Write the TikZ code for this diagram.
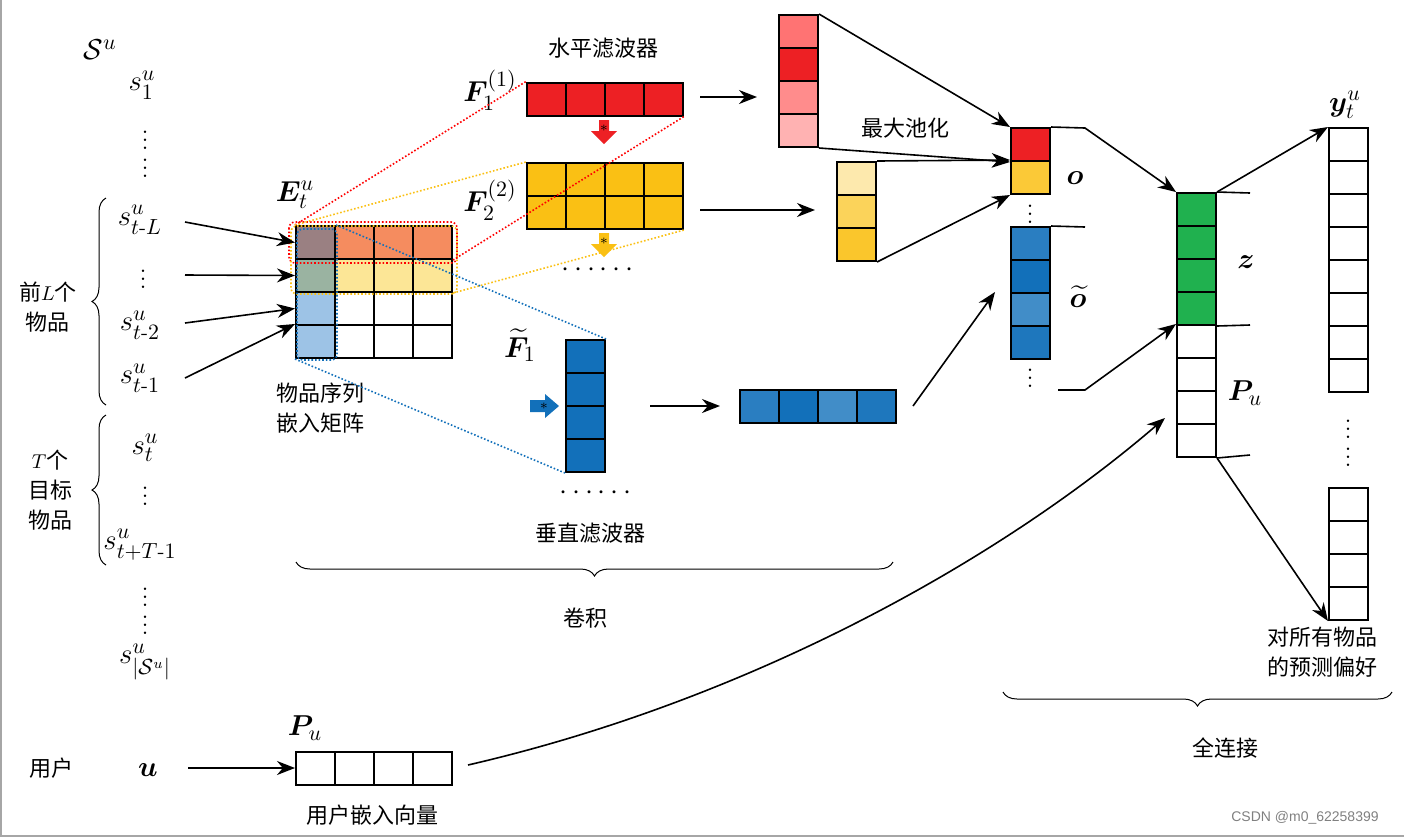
\documentclass[tikz,border=0pt]{standalone}
\usepackage{amsmath,amssymb,bm}
\usepackage{fontspec}
\newfontfamily\cjk{Noto Sans CJK SC}
\newfontfamily\wmfont{Liberation Sans}
\usetikzlibrary{arrows.meta,decorations.pathreplacing}
\definecolor{cRed}{RGB}{237,32,36}
\definecolor{cYel}{RGB}{250,192,20}
\definecolor{cOra}{RGB}{245,140,95}
\definecolor{cLYel}{RGB}{252,230,150}
\definecolor{cMauve}{RGB}{154,128,130}
\definecolor{cGrGr}{RGB}{154,179,161}
\definecolor{cLBlu}{RGB}{157,195,230}
\definecolor{cBlu}{RGB}{18,112,186}
\definecolor{cGrn}{RGB}{32,177,79}
\newcommand{\zh}[1]{{\cjk\fontsize{11}{14}\selectfont #1}}
\newcommand{\tallvdots}{$\vcenter{\hbox{$\vdots$}\vskip-3pt\hbox{$\vdots$}}$}
\begin{document}
\begin{tikzpicture}[x=0.5pt,y=-0.5pt,line width=0.8pt,
  cell/.style={draw,line width=1pt,minimum width=19.5pt,minimum height=16.5pt,inner sep=0pt},
  arr/.style={-{Stealth[length=9pt,width=7pt]}},
  mlab/.style={font=\fontsize{15}{17}\selectfont},
  dred/.style={densely dotted,red,line width=0.8pt},
  dyel/.style={densely dotted,cYel,line width=0.8pt},
  dblu/.style={densely dotted,cBlu,line width=0.8pt},
  brc/.style={decorate,decoration={brace,amplitude=7pt},line width=0.5pt}]
\useasboundingbox (0,0) rectangle (1404,837);
\draw[gray!70,line width=1pt] (1,0) -- (1,836) -- (1404,836);
% left column of items
\node[mlab] (su) at (100,50) {$\mathcal{S}^u$};
\node[mlab] (s1) at (142,85) {$s_1^u$};
\node[mlab] (d1) at (145,148) {\tallvdots};
\node[mlab] (sL) at (140,220) {$s_{t\text{-}L}^u$};
\node[mlab] (sd) at (143,273) {$\vdots$};
\node[mlab] (s2) at (140,325) {$s_{t\text{-}2}^u$};
\node[mlab] (s1b) at (140,378) {$s_{t\text{-}1}^u$};
\node[mlab] (st) at (145,448) {$s_t^u$};
\node[mlab] (sdt) at (145,490) {$\vdots$};
\node[mlab] (sT) at (140,545) {$s_{t+T\text{-}1}^u$};
\node[mlab] (d2) at (145,605) {\tallvdots};
\node[mlab] (sS) at (145,662) {$s_{|\mathcal{S}^u|}^u$};
\draw[brc] (106,405) -- (106,198);
\draw[brc] (106,565) -- (106,415);
\node[align=center] (lL) at (48,307) {\zh{前}$L$\zh{个}\\[3pt]\zh{物品}};
\node[align=center] (lT) at (50,490) {$T$\zh{个}\\[3pt]\zh{目标}\\[3pt]\zh{物品}};
% embedding matrix
\foreach \r in {1,...,4}
  \foreach \c in {1,...,4}{
    \ifnum\r=1 \ifnum\c=1 \def\fc{cMauve}\else\def\fc{cOra}\fi
    \else\ifnum\r=2 \ifnum\c=1 \def\fc{cGrGr}\else\def\fc{cLYel}\fi
    \else \ifnum\c=1 \def\fc{cLBlu}\else\def\fc{white}\fi\fi\fi
    \node[cell,fill=\fc] (e-\r-\c) at (296+39*\c-19.5,226+33*\r-16.5) {};
  }
\draw[dred,rounded corners=3pt] (289,222) rectangle (457,263);
\draw[dyel,rounded corners=3pt] (291,226) rectangle (457,294);
\draw[dblu,rounded corners=3pt] (297,229) rectangle (337,360);
\node[mlab] (Et) at (295,195) {$\bm{E}_t^u$};
\node[align=center] (lE) at (320,408) {\zh{物品序列}\\[3pt]\zh{嵌入矩阵}};
\coordinate (aL) at (185,222); \coordinate (ad) at (185,275);
\coordinate (a2) at (185,323); \coordinate (a1) at (185,378);
\draw[arr] (aL) -- (e-1-1.west);
\draw[arr] (ad) -- (e-2-1.west);
\draw[arr] (a2) -- (e-3-1.west);
\draw[arr] (a1) -- (e-4-1.north west);
% horizontal filters
\node (lH) at (603,48) {\zh{水平滤波器}};
\foreach \c in {1,...,4}
  \node[cell,fill=cRed] (f1-\c) at (527+39*\c-19.5,99) {};
\foreach \r in {1,2}
  \foreach \c in {1,...,4}
    \node[cell,fill=cYel] (f2-\r-\c) at (527+39*\c-19.5,163+33*\r-16.5) {};
\node[mlab] (F1) at (490,90) {$\bm{F}_1^{(1)}$};
\node[mlab] (F2) at (490,200) {$\bm{F}_2^{(2)}$};
\fill[cRed] (599,120) -- (609,120) -- (609,131) -- (617,131) -- (604,144) -- (591,131) -- (599,131) -- cycle;
\node[font=\scriptsize] (sr) at (604,128) {$*$};
\fill[cYel] (599,233) -- (609,233) -- (609,244) -- (617,244) -- (604,257) -- (591,244) -- (599,244) -- cycle;
\node[font=\scriptsize] (sy) at (604,241) {$*$};
\node[mlab] (hd) at (600,270) {$\cdots\cdots$};
\draw[dred] (e-1-1.north west) -- (f1-1.north west);
\draw[dred] (e-1-4.south east) -- (f1-4.south east);
\draw[dyel] (e-1-1.north west) -- (f2-1-1.north west);
\draw[dyel] (e-2-4.south east) -- (f2-2-4.south east);
% vertical filter
\foreach \i in {1,...,4}
  \node[cell,fill=cBlu] (v-\i) at (585.5,340+33*\i-16.5) {};
\draw[dblu] (e-1-1.north east) -- (v-1.north east);
\draw[dblu] (e-4-1.south west) -- (v-4.south west);
\node[mlab] (Fv) at (520,345) {$\widetilde{\bm{F}}_1$};
\fill[cBlu] (530,400) -- (545,400) -- (545,394) -- (559,406) -- (545,418) -- (545,412) -- (530,412) -- cycle;
\node[font=\scriptsize] (sb) at (544,406) {$*$};
\node[mlab] (vd) at (598,493) {$\cdots\cdots$};
\node (lV) at (590,533) {\zh{垂直滤波器}};
\draw[brc] (893,562) -- (296,562);
\node (lC) at (585,618) {\zh{卷积}};
% conv outputs
\foreach \i/\cc in {1/{red!55!white},2/cRed,3/{red!45!white},4/{red!30!white}}
  \node[cell,fill=\cc] (mr-\i) at (798.5,15+33*\i-16.5) {};
\foreach \i/\cc in {1/{cYel!35!white},2/{cYel!70!white},3/{cYel!90!white}}
  \node[cell,fill=\cc] (my-\i) at (856.5,162+33*\i-16.5) {};
\foreach \i/\cc in {1/{cBlu!90!white},2/cBlu,3/{cBlu!80!white},4/{cBlu!95!white}}
  \node[cell,fill=\cc] (mb-\i) at (740+39*\i-19.5,406.5) {};
\coordinate (h1) at (700,97); \coordinate (h1e) at (757,97);
\coordinate (h2) at (700,210); \coordinate (h2e) at (815,210);
\coordinate (h3) at (650,406); \coordinate (h3e) at (720,406);
\draw[arr] (h1) -- (h1e);
\draw[arr] (h2) -- (h2e);
\draw[arr] (h3) -- (h3e);
\node (lM) at (905,128) {\zh{最大池化}};
% pooled vectors
\node[cell,fill=cRed] (o-1) at (1030.5,144.5) {};
\node[cell,fill={cYel!85!white}] (o-2) at (1030.5,177.5) {};
\foreach \i/\cc in {1/{cBlu!90!white},2/cBlu,3/{cBlu!80!white},4/{cBlu!95!white}}
  \node[cell,fill=\cc] (ot-\i) at (1030.5,227+33*\i-16.5) {};
\node[mlab] (od) at (1030,208) {$\vdots$};
\node[mlab] (otd) at (1030,372) {$\vdots$};
\node[mlab] (lo) at (1075,178) {$\bm{o}$};
\node[mlab] (lot) at (1078,297) {$\widetilde{\bm{o}}$};
\draw[arr] (mr-1.north east) -- (o-1.north west);
\draw[arr] (mr-4.south east) -- (o-1.south west);
\draw[arr] (my-1.north east) -- (o-2.north west);
\draw[arr] (my-3.south east) -- (o-2.south west);
\coordinate (b1) at (913,406); \coordinate (b1e) at (995,292);
\draw[arr] (b1) -- (b1e);
% fully connected
\foreach \i in {1,...,4}
  \node[cell,fill=cGrn] (z-\i) at (1196.5,193+33*\i-16.5) {};
\foreach \i in {1,...,4}
  \node[cell] (p-\i) at (1196.5,325+33*\i-16.5) {};
\node[mlab] (lz) at (1246,262) {$\bm{z}$};
\node[mlab] (lp) at (1245,393) {$\bm{P}_u$};
\coordinate (k1) at (1085,128); \coordinate (k2) at (1085,227);
\coordinate (k3) at (1058,390); \coordinate (k4) at (1085,390);
\draw[arr] (o-1.north east) -- (k1) -- (z-1.north west);
\draw (ot-1.north east) -- (k2);
\draw[arr] (k3) -- (k4) -- (p-1.north west);
\coordinate (t1) at (1250,193); \coordinate (t2) at (1250,325); \coordinate (t3) at (1250,455);
\draw (z-1.north east) -- (t1);
\draw (z-4.south east) -- (t2);
\draw (p-4.south east) -- (t3);
\foreach \i in {1,...,8}
  \node[cell] (y1-\i) at (1348.5,128+33*\i-16.5) {};
\foreach \i in {1,...,4}
  \node[cell] (y2-\i) at (1348.5,488+33*\i-16.5) {};
\node[mlab] (ly) at (1345,105) {$\bm{y}_t^u$};
\node[mlab] (yd) at (1348,437) {\tallvdots};
\draw[arr] (z-1.north east) -- (y1-1.north west);
\draw[arr] (p-4.south east) -- (y2-4.south west);
\node[align=center] (lY) at (1322,652) {\zh{对所有物品}\\[3pt]\zh{的预测偏好}};
\draw[brc] (1392,692) -- (1003,692);
\node (lF) at (1225,748) {\zh{全连接}};
% user embedding
\node (lU) at (52,768) {\zh{用户}};
\node[mlab] (u) at (148,770) {$\bm{u}$};
\foreach \c in {1,...,4}
  \node[cell] (pu-\c) at (296+39*\c-19.5,768) {};
\node[mlab] (lpu) at (305,728) {$\bm{P}_u$};
\node (lUE) at (372,815) {\zh{用户嵌入向量}};
\coordinate (u1) at (188,768);
\draw[arr] (u1) -- (pu-1.west);
\coordinate (c1) at (468,765); \coordinate (c2) at (1165,418);
\draw[arr] (c1) .. controls (750,700) and (1000,560) .. (c2);
\node[gray,font=\wmfont\fontsize{7}{8}\selectfont] (wm) at (1305,818) {CSDN @m0\_62258399};
\end{tikzpicture}
\end{document}
